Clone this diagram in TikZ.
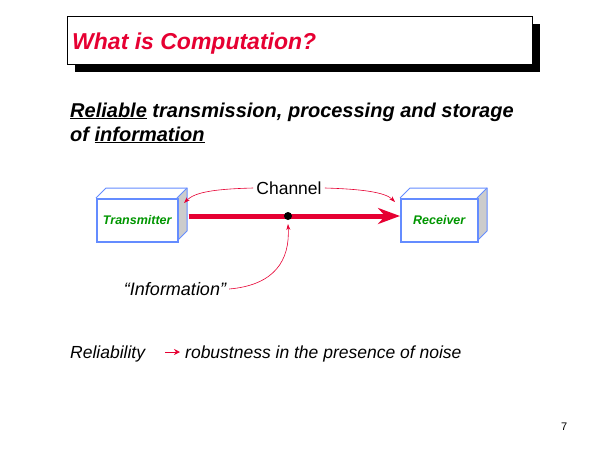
\documentclass[tikz,border=0pt]{standalone}
\usepackage{fontspec}
\setmainfont{Liberation Sans}
\usetikzlibrary{arrows.meta}
\definecolor{tred}{RGB}{230,0,50}
\definecolor{tgreen}{RGB}{0,150,0}
\definecolor{tblue}{RGB}{100,140,255}
\tikzset{
  front/.style={draw=tblue,line width=1.5pt,fill=white},
  thin/.style={draw=tred,line width=0.6pt,-{Stealth[length=6pt,width=4pt]}},
  lbl/.style={inner sep=0pt,anchor=base west},
}
\begin{document}
\begin{tikzpicture}[x=1pt,y=-1pt]
\useasboundingbox (0,0) rectangle (600,450);
% title
\fill[black] (75,24) rectangle (540,72);
\draw[fill=white,line width=0.8pt] (67,16) rectangle (532,64);
\node[lbl,text=tred,font=\fontsize{23}{27}\selectfont\bfseries\itshape] (title) at (72,49) {What is Computation?};
\node[lbl,font=\fontsize{20}{23}\selectfont\bfseries\itshape] (s1) at (70,117) {\underline{Reliable} transmission, processing and storage};
\node[lbl,font=\fontsize{20}{23}\selectfont\bfseries\itshape] (s2) at (70,141) {of \underline{information}};
% boxes
\foreach \n/\x/\w/\t in {tx/96/81/Transmitter, rx/400/77/Receiver}{
  \fill[gray!40] (\x+\w,198) -- (\x+\w+10,188) -- (\x+\w+10,231) -- (\x+\w,241) -- cycle;
  \draw[tblue,line width=1pt] (\x,198) -- (\x+10,188) -- (\x+\w+10,188) -- (\x+\w+10,231) -- (\x+\w,241);
  \draw[tblue,line width=1pt] (\x+\w,198) -- (\x+\w+10,188);
  \node[front,minimum width=\w pt,minimum height=43pt,anchor=north west,inner sep=0pt,
    font=\fontsize{12.5}{15}\selectfont\bfseries\itshape,text=tgreen] (\n) at (\x,198) {\t};
}
\coordinate (dot) at (288,216);
\draw[tred,line width=5pt,-{Stealth[length=22pt,width=16pt]}] (tx.east|-dot) ++(10,0) -- (rx.west|-dot);
\fill (dot) circle (4);
\node[font=\fontsize{17.5}{20}\selectfont,inner sep=3pt] (ch) at (289,188) {Channel};
\draw[thin] (ch.west) .. controls (215,189) and (195,192) .. (184,203);
\draw[thin] (ch.east) .. controls (360,189) and (385,192) .. (395,202);
\node[font=\fontsize{18}{21}\selectfont\itshape,inner sep=3pt] (info) at (175,289) {``Information''};
\draw[thin] (info.east) .. controls (275,285) and (290,260) .. (288,224);
% bottom
\node[lbl,font=\fontsize{17.5}{20}\selectfont\itshape] (rel) at (70,358) {Reliability};
\draw[tred,line width=0.8pt,-{Stealth[length=6pt,width=6pt]}] (165,352) -- (180,352);
\node[lbl,font=\fontsize{17.5}{20}\selectfont\itshape] (rob) at (185,358) {robustness in the presence of noise};
\node[lbl,font=\fontsize{11}{13}\selectfont] (pg) at (561,430) {7};
\end{tikzpicture}
\end{document}
